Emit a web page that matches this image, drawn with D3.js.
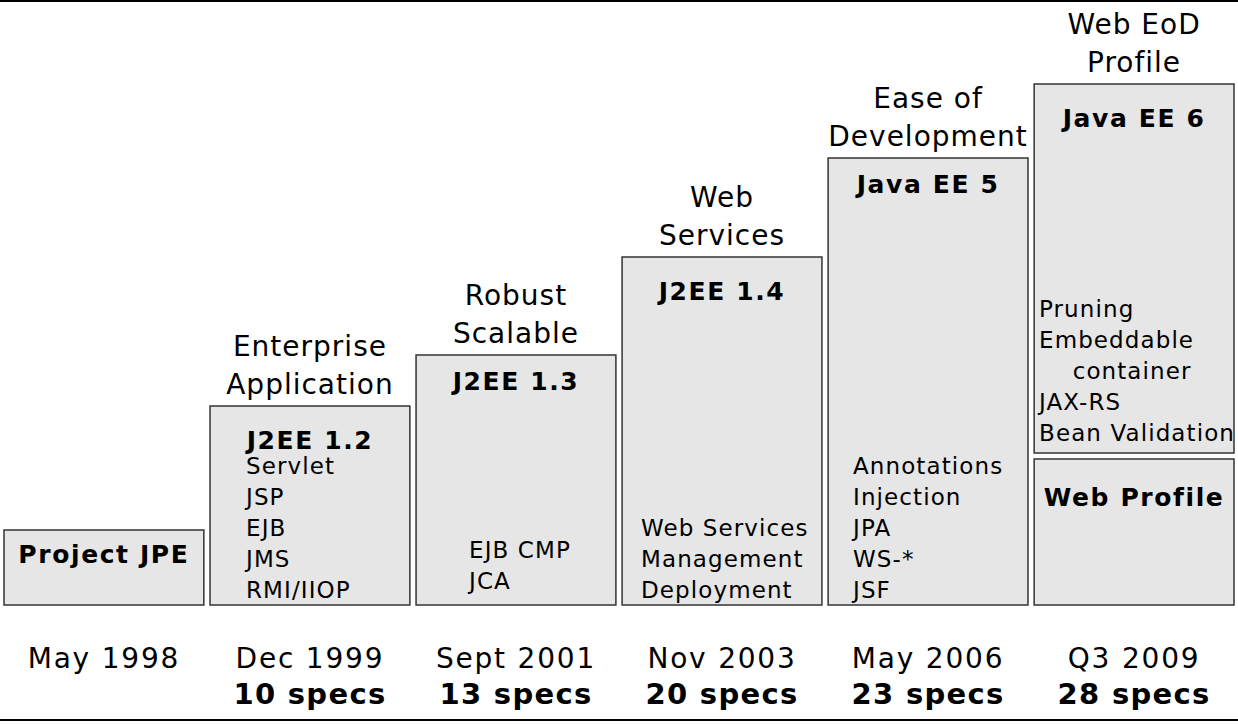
<!DOCTYPE html>
<html><head><meta charset="utf-8">
<script src="https://cdn.jsdelivr.net/npm/d3@7/dist/d3.min.js"></script>
<style>body{margin:0;background:#fff}svg{font-family:"DejaVu Sans",sans-serif}</style>
</head><body><svg id="c" width="1238" height="725"></svg>
<script>
const releases = ["Project JPE","J2EE 1.2","J2EE 1.3","J2EE 1.4","Java EE 5","Java EE 6"];
const heights = [75,199,250,348,447,521];
const themes = [[],["Enterprise","Application"],["Robust","Scalable"],["Web","Services"],["Ease of","Development"],["Web EoD","Profile"]];
const dates = ["May 1998","Dec 1999","Sept 2001","Nov 2003","May 2006","Q3 2009"];
const specs = ["","10 specs","13 specs","20 specs","23 specs","28 specs"];
const features = [[],["Servlet","JSP","EJB","JMS","RMI/IIOP"],["EJB CMP","JCA"],["Web Services","Management","Deployment"],["Annotations","Injection","JPA","WS-*","JSF"],["Pruning","Embeddable","    container","JAX-RS","Bean Validation"]];
const webProfileHeight = 146;

const svg = d3.select("#c");
const base = 605;
const x = d3.scaleBand().domain(releases).range([4,1234]).paddingInner(0.03);
const y = d3.scaleLinear().domain([0,600]).range([base, base-600]);
const bw = x.bandwidth();

svg.append("line").attr("x1",0).attr("x2",1238).attr("y1",1).attr("y2",1).attr("stroke","#000").attr("stroke-width",2);
svg.append("line").attr("x1",0).attr("x2",1238).attr("y1",720).attr("y2",720).attr("stroke","#000").attr("stroke-width",2);

releases.forEach((r,i)=>{
  const x0 = x(r), cx = x0+bw/2, top = y(heights[i]);
  const g = svg.append("g");
  const box = (yy,h)=>g.append("rect").attr("x",x0).attr("y",yy).attr("width",bw).attr("height",h)
      .attr("fill","#e6e6e6").attr("stroke","#333").attr("stroke-width",1.5);
  const label = (t,yy)=>g.append("text").attr("x",cx).attr("y",yy).attr("text-anchor","middle").attr("font-size",25).attr("letter-spacing",1.6).attr("font-weight","bold").text(t);
  if(i===5){
    const wpTop = y(webProfileHeight);
    box(top, wpTop-6-top);
    box(wpTop, base-wpTop);
    label("Web Profile", wpTop+47);
  } else box(top, base-top);
  label(r, i===0 ? top+33 : top+(i%2?43:35));
  const th = themes[i];
  th.forEach((t,k)=>g.append("text").attr("x",cx).attr("y",top-12-(th.length-1-k)*38).attr("text-anchor","middle").attr("font-size",28).attr("letter-spacing",1).text(t));
  const f = features[i];
  const fx = [0,246,469,641,853,1039][i];
  let startY = i===5 ? 317 : 598 - (f.length-1)*31;
  if(i===2) startY=558;
  f.forEach((t,k)=>g.append("text").attr("x",fx).attr("y",startY+k*31).attr("font-size",23).attr("letter-spacing",1.1).style("white-space","pre").text(t));
  g.append("text").attr("x",cx).attr("y",668).attr("text-anchor","middle").attr("font-size",28).attr("letter-spacing",1.8).text(dates[i]);
  g.append("text").attr("x",cx).attr("y",704).attr("text-anchor","middle").attr("font-size",29).attr("letter-spacing",1.3).attr("font-weight","bold").text(specs[i]);
});
</script></body></html>
